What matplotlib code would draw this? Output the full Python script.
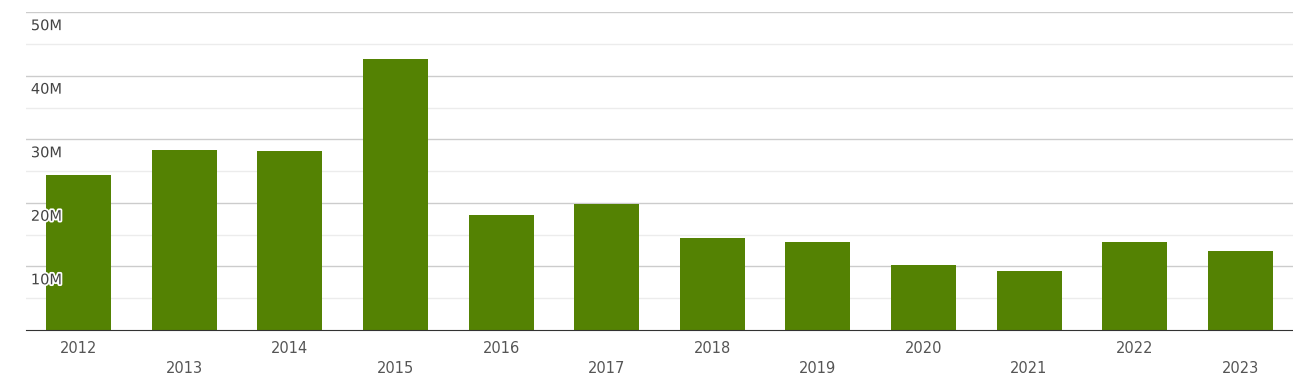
import numpy as np
import matplotlib.pyplot as plt
import matplotlib.patheffects as pe

# values (millions)
years = ['2012', '2013', '2014', '2015', '2016', '2017',
         '2018', '2019', '2020', '2021', '2022', '2023']
values = [24.4, 28.3, 28.2, 42.7, 18.1, 19.8,
          14.5, 13.9, 10.2, 9.3, 13.9, 12.4]
major_ticks = [10, 20, 30, 40, 50]
minor_ticks = [5, 15, 25, 35, 45]

fig = plt.figure(figsize=(12.93, 3.84), dpi=100)
ax = fig.add_axes([26 / 1293, 1 - 330 / 384, 1 - 26 / 1293, (330 - 12.3) / 384])

x = np.arange(len(years))
ax.bar(x, values, width=0.615, color='#548203', zorder=3)

ax.set_xlim(-0.5, len(years) - 0.5)
ax.set_ylim(0, 50)

# gridlines
for v in major_ticks:
    ax.axhline(v, color='#cccccc', linewidth=1, zorder=1)
for v in minor_ticks:
    ax.axhline(v, color='#ececec', linewidth=1, zorder=1)

for s in ['top', 'right', 'left']:
    ax.spines[s].set_visible(False)
ax.spines['bottom'].set_color('#333333')
ax.spines['bottom'].set_zorder(4)
ax.set_xticks([])
ax.set_yticks([])

# y labels inside the plot, just below each gridline
for v in major_ticks:
    ax.annotate(f'{v}M', xy=(0, v), xycoords=('axes fraction', 'data'),
                xytext=(3.5, -4.2), textcoords='offset points',
                ha='left', va='top', fontsize=10.5, color='#444444', zorder=5,
                path_effects=[pe.withStroke(linewidth=2.5, foreground='white')])

# staggered year labels
for i, yr in enumerate(years):
    off = -8 if i % 2 == 0 else -22.5
    ax.annotate(yr, xy=(i, 0), xycoords='data', xytext=(0, off),
                textcoords='offset points', ha='center', va='top',
                fontsize=10.5, color='#555555', annotation_clip=False)

fig.savefig('out.png', dpi=100)
